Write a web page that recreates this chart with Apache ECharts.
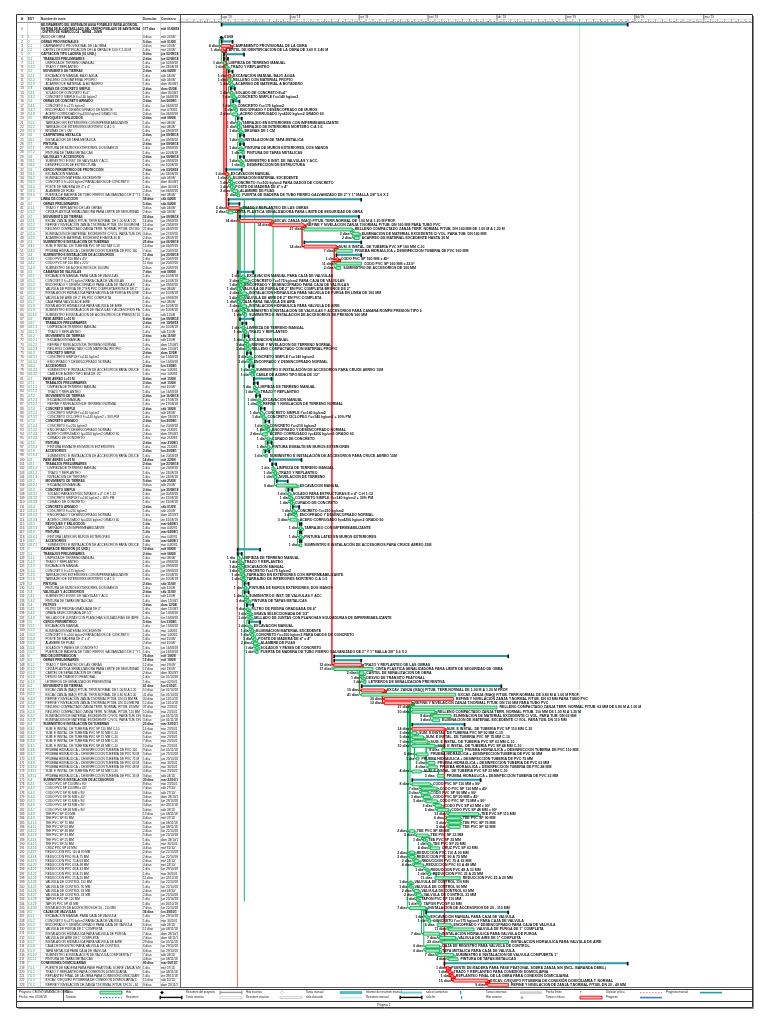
<!DOCTYPE html>
<html><head><meta charset="utf-8">
<script src="https://cdn.jsdelivr.net/npm/echarts/dist/echarts.min.js"></script>
<style>html,body{margin:0;padding:0;background:#fff}#c{width:768px;height:1024px}</style>
</head><body><div id="c"></div>
<script>
// ---------------- DATA ----------------
const taskNames = [
"MEJORAMIENTO DEL SISTEMA DE AGUA POTABLE E INSTALACIÓN DEL SISTEMA DE ALCANTARILLADO DEL CENTRO POBLADO DE SANTA ROSA, DISTRITO DE HUARICOLCA - TARMA - JUNIN",
"", "",
// 3-9
"INICIO DE OBRA","OBRAS PROVISIONALES","CAMPAMENTO PROVISIONAL DE LA OBRA","CARTEL DE IDENTIFICACION DE LA OBRA DE 3.60 X 2.40 M","CAPTACION TIPO LADERA (01 UND.)","TRABAJOS PRELIMINARES","LIMPIEZA DE TERRENO MANUAL",
// 10-19
"TRAZO Y REPLANTEO","MOVIMIENTO DE TIERRAS","EXCAVACION MANUAL BAJO AGUA","RELLENO CON MATERIAL PROPIO","ACARREO DE MATERIAL A BOTADERO","OBRAS DE CONCRETO SIMPLE","SOLADO DE CONCRETO E=4\"","CONCRETO SIMPLE f'c=140 kg/cm2","OBRAS DE CONCRETO ARMADO","CONCRETO f'c=175 kg/cm2",
// 20-29
"ENCOFRADO Y DESENCOFRADO DE MUROS","ACERO CORRUGADO fy=4200 kg/cm2 GRADO 60","REVOQUES Y ENLUCIDOS","TARRAJEO EN EXTERIORES CON IMPERMEABILIZANTE","TARRAJEO DE INTERIORES MORTERO C:A 1:5","BRUÑAS DE 1 CM","CARPINTERIA METALICA","INSTALACION DE TAPA METALICA","PINTURA","PINTURA DE MUROS EXTERIORES, DOS MANOS",
// 30-39
"PINTURA DE TAPAS METALICAS","VALVULAS Y ACCESORIOS","SUMINISTRO E INST. DE VALVULAS Y ACC.","DESINFECCION DE ESTRUCTURA","CERCO PERIMETRICO DE PROTECCION","EXCAVACION MANUAL","ELIMINACION MATERIAL EXCEDENTE","CONCRETO f'c=100 kg/cm2 PARA DADOS DE CONCRETO","POSTE DE MADERA DE 4\" x 4\"","ALAMBRE DE PUAS",
// 40-49
"PUERTA DE MADERA DE TUBO FIERRO GALVANIZADO DE 2\" Y 1\" MALLA 3/8\" 5.6 X 2","LINEA DE CONDUCCION","OBRAS PRELIMINARES","TRAZO Y REPLANTEO DE LAS OBRAS","CINTA PLASTICA SEÑALIZADORA PARA LIMITE DE SEGURIDAD DE OBRA","MOVIMIENTO DE TIERRAS","EXCAV. ZANJA (MAQ) P/TUB. TERR.NORMAL DE 1.00 M A 1.20 M PROF.","REFINE Y NIVELACION ZANJA T.NORMAL P/TUB. DN 160 MM PARA TUBO PVC","RELLENO COMPACTADO ZANJA TERR. NORMAL P/TUB. DN 160 MM DE 1.00 M A 1.20 M","ELIMINACION DE MATERIAL EXCEDENTE C/ VOL. PARA TUB. DN 160 MM",
// 50-59
"ACARREO DE MATERIAL EXCEDENTE HASTA 30 M","SUMINISTRO E INSTALACION DE TUBERIAS","SUM. E INSTAL. DE TUBERIA PVC SP 160 MM C-10","PRUEBA HIDRAULICA + DESINFECCION TUBERIA DE PVC 160 MM","SUMINISTRO E INSTALACION DE ACCESORIOS","CODO PVC SP 160 MM x 45°","CODO PVC SP 160 MM x 22.5°","SUMINISTRO DE ACCESORIOS DE 160 MM","CAMARAS DE VALVULAS","EXCAVACION MANUAL PARA CAJA DE VALVULAS",
// 60-69
"CONCRETO f'c=175 kg/cm2 PARA CAJA DE VALVULAS","ENCOFRADO Y DESENCOFRADO PARA CAJA DE VALVULAS","VALVULA DE PURGA DE 2\" EN PVC COMPLETA BRONCE DE 2\"","INSTALACION HIDRAULICA PARA VALVULA DE PURGA EN LINEA DE 160 MM","VALVULA DE AIRE DE 2\" EN PVC COMPLETA","CAJA PARA VALVULA DE AIRE","INSTALACION HIDRAULICA PARA VALVULA DE AIRE","SUMINISTRO E INSTALACION DE VALVULAS Y ACCESORIOS PARA CAMARA ROMPE PRESION TIPO 6","SUMINISTRO E INSTALACION DE ACCESORIOS DE PRESION 160 MM","PASE AEREO L=10 M",
// 70-79
"TRABAJOS PRELIMINARES","LIMPIEZA DE TERRENO MANUAL","TRAZO Y REPLANTEO","MOVIMIENTO DE TIERRAS","EXCAVACION MANUAL","REFINE Y NIVELACION DE TERRENO NORMAL","RELLENO COMPACTADO CON MATERIAL PROPIO","CONCRETO SIMPLE","CONCRETO SIMPLE f'c=140 kg/cm2","ENCOFRADO Y DESENCOFRADO NORMAL",
// 80-89
"ACCESORIOS","SUMINISTRO E INSTALACIÓN DE ACCESORIOS PARA CRUCE AEREO 10M","CABLE DE ACERO TIPO BOA DE 1/2\"","PASE AEREO L=15 M","TRABAJOS PRELIMINARES","LIMPIEZA DE TERRENO MANUAL","TRAZO Y REPLANTEO","MOVIMIENTO DE TIERRAS","EXCAVACION MANUAL","REFINE Y NIVELACION DE TERRENO NORMAL",
// 90-99
"CONCRETO SIMPLE","CONCRETO SIMPLE f'c=140 kg/cm2","CONCRETO CICLOPEO f'c=140 kg/cm2 + 30% PM","CONCRETO ARMADO","CONCRETO f'c=210 kg/cm2","ENCOFRADO Y DESENCOFRADO NORMAL","ACERO CORRUGADO fy=4200 kg/cm2 GRADO 60","CURADO DE CONCRETO","PINTURA","PINTURA ESMALTE EN MUROS EXTERIORES",
// 100-109
"ACCESORIOS","SUMINISTRO E INSTALACIÓN DE ACCESORIOS PARA CRUCE AEREO 15M","PASE AEREO L=25 M","TRABAJOS PRELIMINARES","LIMPIEZA DE TERRENO MANUAL","TRAZO Y REPLANTEO","NIVELACION DE TERRENO","MOVIMIENTO DE TIERRAS","EXCAVACION MANUAL","CONCRETO SIMPLE",
// 110-119
"SOLADO PARA ESTRUCTURAS E = 4\" C:H 1:12","CONCRETO SIMPLE f'c=140 kg/cm2 + 30% PM","CURADO DE CONCRETO","CONCRETO ARMADO","CONCRETO f'c=210 kg/cm2","ENCOFRADO Y DESENCOFRADO NORMAL","ACERO CORRUGADO fy=4200 kg/cm2 GRADO 60","REVOQUES Y ENLUCIDOS","TARRAJEO CON IMPERMEABILIZANTE","PINTURA",
// 120-129
"PINTURA LATEX EN MUROS EXTERIORES","ACCESORIOS","SUMINISTRO E INSTALACIÓN DE ACCESORIOS PARA CRUCE AEREO 25M","CAMARA DE REUNION (01 UND.)","TRABAJOS PRELIMINARES","LIMPIEZA DE TERRENO MANUAL","TRAZO Y REPLANTEO","EXCAVACION MANUAL","CONCRETO f'c=175 kg/cm2","TARRAJEO EN EXTERIORES CON IMPERMEABILIZANTE",
// 130-139
"TARRAJEO DE INTERIORES MORTERO C:A 1:5","PINTURA","PINTURA DE MUROS EXTERIORES, DOS MANOS","VALVULAS Y ACCESORIOS","SUMINISTRO E INST. DE VALVULAS Y ACC","PINTURA DE TAPAS METALICAS","FILTROS","FILTRO DE PIEDRA GRADUADA DE 4\"","GRAVA SELECCIONADA DE 1/2\"","SELLADO DE JUNTAS CON PLANCHAS SOLDADURAS DE IMPERMEABILIZANTE",
// 140-149
"CERCO PERIMETRICO","EXCAVACION MANUAL","ELIMINACION MATERIAL EXCEDENTE","CONCRETO f'c=100 kg/cm2 PARA DADOS DE CONCRETO","POSTE DE MADERA DE 4\" x 4\"","ALAMBRE DE PUAS","SOLADOS Y PASES DE CONCRETO","PUERTA DE MADERA DE TUBO FIERRO GALVANIZADO DE 2\" Y 1\" MALLA 3/8\" 5.6 X 2","RED DE DISTRIBUCION","OBRAS PRELIMINARES",
// 150-159
"TRAZO Y REPLANTEO DE LAS OBRAS","CINTA PLASTICA SEÑALIZADORA PARA LIMITE DE SEGURIDAD DE OBRA","CARTEL DE SEÑALIZACION DE OBRA","DESVIO DE TRANSITO PEATONAL","LETREROS DE SEÑALIZACION PREVENTIVA","MOVIMIENTO DE TIERRAS","EXCAV. ZANJA (MAQ) P/TUB. TERR.NORMAL DE 1.00 M A 1.20 M PROF.","EXCAV. ZANJA (MAQ) P/TUB. TERR.NORMAL DE 0.80 M A 1.00 M PROF.","REFINE Y NIVELACION ZANJA T.NORMAL P/TUB. DN 63 MM PARA TUBO PVC","REFINE Y NIVELACION ZANJA T.NORMAL P/TUB. DN 110 MM PARA TUBO PVC",
// 160-169
"RELLENO COMPACTADO ZANJA TERR. NORMAL P/TUB. 63 MM DE 0.80 M A 1.00 M","RELLENO COMPACTADO ZANJA TERR. NORMAL P/TUB. 110 MM DE 1.00 M A 1.20 M","ELIMINACION DE MATERIAL EXCEDENTE C/ VOL. PARA TUB. DN 63 MM","ELIMINACION DE MATERIAL EXCEDENTE C/ VOL. PARA TUB. DN 110 MM","SUMINISTRO E INSTALACION DE TUBERIAS","SUM. E INSTAL. DE TUBERIA PVC SP 110 MM C-10","SUM. E INSTAL. DE TUBERIA PVC SP 90 MM C-10","SUM. E INSTAL. DE TUBERIA PVC SP 75 MM C-10","SUM. E INSTAL. DE TUBERIA PVC SP 63 MM C-10","SUM. E INSTAL. DE TUBERIA PVC SP 48 MM C-10",
// 170-179
"PRUEBA HIDRAULICA + DESINFECCION TUBERIA DE PVC 110 MM","PRUEBA HIDRAULICA + DESINFECCION TUBERIA DE PVC 90 MM","PRUEBA HIDRAULICA + DESINFECCION TUBERIA DE PVC 75 MM","PRUEBA HIDRAULICA + DESINFECCION TUBERIA DE PVC 63 MM","PRUEBA HIDRAULICA + DESINFECCION TUBERIA DE PVC 48 MM","SUM. E INSTAL. DE TUBERIA PVC SP 33 MM C-10","PRUEBA HIDRAULICA + DESINFECCION TUBERIA DE PVC 33 MM","SUMINISTRO E INSTALACION DE ACCESORIOS","CODO PVC SP 110 MM x 90°","CODO PVC SP 110 MM x 45°",
// 180-189
"CODO PVC SP 90 MM x 90°","CODO PVC SP 90 MM x 45°","CODO PVC SP 75 MM x 90°","CODO PVC SP 63 MM x 90°","CODO PVC SP 48 MM x 90°","TEE PVC SP 110 MM","TEE PVC SP 90 MM","TEE PVC SP 75 MM","TEE PVC SP 63 MM","TEE PVC SP 48 MM",
// 190-199
"TEE PVC SP 33 MM","TEE PVC SP 25 MM","TEE PVC SP 20 MM","CRUZ PVC SP 63 MM","REDUCCION PVC 110 A 90 MM","REDUCCION PVC 90 A 75 MM","REDUCCION PVC 75 A 63 MM","REDUCCION PVC 63 A 48 MM","REDUCCION PVC 48 A 33 MM","REDUCCION PVC 33 A 25 MM",
// 200-209
"REDUCCION PVC 25 A 20 MM","VALVULA DE CONTROL 110 MM","VALVULA DE CONTROL 90 MM","VALVULA DE CONTROL 63 MM","VALVULA DE CONTROL 33 MM","TAPON PVC SP 110 MM","TAPON PVC SP 63 MM","INSTALACION DE ACCESORIOS DE 20 - 110 MM","CAJAS DE VALVULAS","EXCAVACION MANUAL PARA CAJA DE VALVULA",
// 210-219
"CONCRETO f'c=175 kg/cm2 PARA CAJA DE VALVULA","ENCOFRADO Y DESENCOFRADO PARA CAJA DE VALVULA","VALVULA DE PURGA DE 1\" COMPLETA","INSTALACION HIDRAULICA PARA VALVULA DE PURGA","VALVULA DE AIRE DE 1\" COMPLETA","INSTALACION HIDRAULICA PARA VALVULA DE AIRE","CAJA DE REGISTRO PARA VALVULA DE CONTROL","TAPA METALICA PARA CAJA DE VALVULA","SUMINISTRO E INSTALACION DE VALVULA COMPUERTA 1\"","PINTURA DE TAPAS METALICAS",
// 220-225
"CONEXIONES DOMICILIARIAS","PUENTE DE MADERA PARA PASE PEATONAL SOBRE ZANJA S/N (INCL. BARANDA DEBIL)","TRAZO Y REPLANTEO PARA CONEXIÓN DOMICILIARIA","REPLANTEO FINAL DE LA OBRA PARA CONEXIÓN DOMICILIARIA","EXCAV. C/EQUIPO P/TUBERIA DE CONEXIÓN DOMICILIARIA T. NORMAL","REFINE Y NIVELACION DE ZANJA T.NORMAL P/TUB. DN 20 - 40 MM"
];

// P = project summary, B = blank, M = milestone, S = summary, C = critical task, N = normal task
const taskKinds = ["PBBMSCCSSN","NSCNNSNNSN","NNSNNNSNSN","NSNNSCNNNN","NSSCNSCCNN","NSCNSCNNSN","NNNNNNNNNS","SNNSNNNSNN","SNNSSNNSNN","SNNSNNNNSN","SNSSNNNSNS","NNNSNNNSNS","NSNSSNNNNN","NSNSNNSNNN","SNNNNNNNSS","CNNNNSCNCC","NNNNSCNNNN","NNNNNNNSNN","NNNNNNNNNN","NNNNNNNNNN","NNNNNNNNSN","NNNNNNNNNN","SCCCCC"].join('').split('');

const taskLevels = [
0,0,0,1,1,2,2,1,2,3, 3,2,3,3,3,2,3,3,2,3, 3,3,2,3,3,3,2,3,2,3, 3,2,3,3,2,3,3,3,3,3,
3,1,2,3,3,2,3,3,3,3, 3,2,3,3,2,3,3,3,2,3, 3,3,3,3,3,3,3,3,3,2, 3,4,4,3,4,4,4,3,4,4,
3,4,4,2,3,4,4,3,4,4, 3,4,4,3,4,4,4,4,3,4, 3,4,2,3,4,4,4,3,4,3, 4,4,4,3,4,4,4,3,4,3,
4,3,4,1,2,3,3,3,3,3, 3,2,3,2,3,3,2,3,3,3, 2,3,3,3,3,3,3,3,1,2, 3,3,3,3,3,2,3,3,3,3,
3,3,3,3,2,3,3,3,3,3, 3,3,3,3,3,3,3,2,3,3, 3,3,3,3,3,3,3,3,3,3, 3,3,3,3,3,3,3,3,3,3,
3,3,3,3,3,3,3,3,2,3, 3,3,3,3,3,3,3,3,3,3, 1,3,3,3,3,3];

// start (days from project start)
const taskStarts = [
0,0,0,0,0,0,0,1,1,1, 2,3,3,3,4,4,4,5,5,5, 6,5,7,7,7,8,8,8,8,8, 9,8,8,9,2,2,3,4,4,5,
7,3,3,3,3,8,8,22,36,57, 58,36,36,50,50,50,50,50,7,9, 9,8,7,9,8,7,9,9,10,8, 9,9,10,10,10,11,11,11,12,12,
12,13,13,14,14,14,15,15,16,16, 17,17,18,19,19,20,18,20,20,20, 19,19,21,22,22,23,23,24,24,29, 29,30,30,31,31,32,30,34,34,34,
34,34,34,7,7,7,8,8,8,9, 9,10,10,10,10,11,11,11,12,12, 12,12,13,13,14,14,15,15,49,49, 49,49,60,61,62,61,61,61,71,71,
83,83,92,92,83,83,83,83,83,83, 96,85,85,90,90,83,94,83,83,87, 87,88,89,93,94,99,98,99,99,82, 85,88,90,91,82,82,84,84,89,90,
93,82,82,84,85,85,86,82,89,89, 90,94,99,88,95,96,89,89,94,99, 97,98,99,100,101,116];

// duration (days)
const taskDurations = [
177,0,0,0,5,4,1,9,2,1, 1,2,1,1,1,2,1,1,3,1, 1,2,2,1,1,1,2,1,2,1, 1,2,1,1,7,1,1,1,1,2,
1,58,5,5,2,52,14,14,21,3, 2,25,14,7,11,1,11,2,7,1, 3,1,1,2,1,1,2,1,1,6, 2,1,1,2,1,1,1,2,1,1,
2,1,1,8,2,1,1,2,1,1, 2,1,1,2,1,1,2,1,2,1, 2,1,14,2,1,1,1,5,9,2, 1,1,1,3,1,1,3,1,1,1,
1,1,1,10,2,1,1,1,1,1, 1,2,1,2,1,1,3,1,1,1, 5,1,1,1,1,2,1,1,76,12, 12,17,2,1,1,61,10,41,30,12,
37,10,8,3,23,14,2,5,7,10, 9,5,1,3,4,4,3,30,8,7, 3,3,5,3,5,13,6,5,5,2, 5,1,1,4,2,2,2,4,1,1,
11,1,1,2,2,1,1,7,36,1, 1,6,11,7,7,29,6,6,7,4, 80,1,1,1,15,9];

// predecessor row (-1 = none)
const taskPreds = [
-1,-1,-1,-1,-1,3,3,-1,-1,6, 9,-1,10,12,13,-1,14,16,-1,17, 19,17,-1,21,23,24,-1,25,-1,27, 29,-1,29,32,-1,6,35,36,37,38,
39,-1,-1,5,43,-1,43,46,47,48, 49,-1,47,52,-1,52,55,55,-1,43, 59,60,61,62,63,64,65,66,67,-1, -1,43,71,-1,72,74,75,-1,76,78,
-1,79,81,-1,-1,43,85,-1,86,88, -1,89,91,-1,92,94,94,95,-1,97, -1,99,-1,-1,43,104,105,-1,106,-1, 108,110,111,-1,112,114,114,-1,116,-1,
118,-1,120,-1,-1,44,125,126,127,128, 129,-1,130,-1,132,134,-1,135,137,138, -1,139,141,142,143,144,145,146,-1,-1, 55,150,150,152,153,-1,150,150,156,156,
159,159,161,161,-1,159,159,159,159,159, 169,166,167,168,169,159,175,-1,159,178, 179,180,181,182,183,184,185,186,187,159, 189,190,191,192,159,194,195,196,197,198,
199,159,201,202,203,204,205,159,-1,207, 209,210,211,207,213,214,207,216,217,218, -1,165,221,222,223,224];

// links that continue to tasks on the next page: [from row, day of the vertical]
const offPageFromRows = [45, 41];
const offPageDays = [7, 10];
const offPageToRows = [225, 205];

// timescale
const majorTickDays = [0,30,60,90,120,150,180,210];
const majorTickLabels = ["ago '18","sep '18","oct '18","nov '18","dic '18","ene '19","feb '19","mar '19"];
const minorStep = 3;
const minorTickLetters = ['D','L','M','X','J','V','S'];
// vertical marker line (days)
const markerLineDays = [156];

const legendLabels = [["Tarea","División"],["Hito","Resumen"],["Resumen del proyecto","Tarea inactiva"],["Hito inactivo","Resumen inactivo"],["Tarea manual","solo duración"],["Informe de resumen manual","Resumen manual"],["solo el comienzo","solo fin"],["Tareas externas","Hito externo"],["Fecha límite","Tareas críticas"],["División crítica","Progreso"],["Progreso manual",""]];

// ---------------- RENDER ----------------
const TEAL='#2a9ca4', RED='#ff0000', PINK='#f9b8b8', GREEN='#00b050', LGREEN='#b3e6c1';
const FONT='"Liberation Sans", Arial, sans-serif';
const DOW=['dom','lun','mar','mié','jue','vie','sáb'];
const pad=n=>(n<10?'0':'')+n;
function dateOf(d){const t=new Date(2018,7,1);t.setDate(t.getDate()+d);return t;}
function fmtDate(d){const t=dateOf(d);return DOW[t.getDay()]+' '+pad(t.getDate())+'/'+pad(t.getMonth()+1)+'/'+String(t.getFullYear()).slice(2);}
function fmtDur(n){return n===1?'1 día':n+' días';}

const N=taskNames.length;
const edt=[]; const cnt=[0,0,0,0,0,0];
for(let k=0;k<N;k++){
  const kd=taskKinds[k];
  if(kd==='P'){edt.push('0');continue;}
  if(kd==='B'){edt.push('');continue;}
  const L=taskLevels[k]; cnt[L]++; for(let j=L+1;j<cnt.length;j++)cnt[j]=0;
  edt.push(cnt.slice(1,L+1).join('.'));
}

function txt(x,y,s,font,align,fill,extra){
  return {type:'text',silent:true,style:Object.assign({x:x,y:y,text:s,font:font,align:align||'left',verticalAlign:'middle',fill:fill||'#000'},extra||{})};
}

const barData=[], tableData=[], linkData=[];
for(let k=0;k<N;k++){
  if(taskKinds[k]==='B') continue;
  barData.push([taskStarts[k], taskStarts[k]+taskDurations[k], k]);
  tableData.push([0,k]);
  const p=taskPreds[k];
  if(p>=0) linkData.push([taskStarts[p]+taskDurations[p], p, taskStarts[k], k]);
}

const LBL='bold 3.55px '+FONT;
function renderBar(params,api){
  const s=api.value(0), e=api.value(1), k=api.value(2);
  const kind=taskKinds[k];
  const a=api.coord([s,k]), b=api.coord([e,k]);
  const y=a[1], x0=a[0], x1=b[0];
  const ch=[];
  if(kind==='S'||kind==='P'){
    const bh=kind==='P'?2.4:2.1;
    ch.push({type:'rect',shape:{x:x0,y:y-bh/2-0.3,width:Math.max(x1-x0,0.8),height:bh},style:{fill:TEAL}});
    ch.push({type:'rect',shape:{x:x0-0.6,y:y-1.7,width:1.7,height:3.6},style:{fill:'#111'}});
    ch.push({type:'rect',shape:{x:x1-1.1,y:y-1.7,width:1.7,height:3.6},style:{fill:'#111'}});
  } else if(kind==='M'){
    ch.push({type:'polygon',shape:{points:[[x0,y-2],[x0+2,y],[x0,y+2],[x0-2,y]]},style:{fill:'#000'}});
    const t=dateOf(s);
    ch.push(txt(x0+3,y-0.8,pad(t.getDate())+'/'+pad(t.getMonth()+1),LBL,'left'));
  } else {
    const c=kind==='C';
    ch.push({type:'rect',shape:{x:x0,y:y-1.45,width:Math.max(x1-x0,1.2),height:2.9},style:{fill:c?PINK:LGREEN,stroke:c?RED:GREEN,lineWidth:0.85}});
    ch.push(txt(x1+2.5,y,taskNames[k],LBL,'left','#111'));
    ch.push(txt(x0-2.5,y,fmtDur(taskDurations[k]),LBL,'right','#111'));
  }
  return {type:'group',children:ch};
}

function renderLink(params,api){
  const pe=api.value(0), pk=api.value(1), ss=api.value(2), sk=api.value(3);
  const A=api.coord([pe,pk]), B=api.coord([ss,sk]);
  const h=api.size([0,1])[1];
  const crit=taskKinds[pk]==='C'&&taskKinds[sk]==='C';
  const col=crit?RED:GREEN, lw=crit?1.35:0.9;
  let pts, arrow;
  if(B[0]>=A[0]+2.5){
    const xv=B[0]+1.2;
    pts=[[A[0],A[1]],[xv,A[1]],[xv,B[1]-1.5]];
    arrow=[[xv-1,B[1]-2.6],[xv+1,B[1]-2.6],[xv,B[1]-1.4]];
  } else {
    const xr=A[0]+1.8, ym=A[1]+h/2, xl=B[0]-2;
    pts=[[A[0],A[1]],[xr,A[1]],[xr,ym],[xl,ym],[xl,B[1]],[B[0],B[1]]];
    arrow=[[B[0]-1.2,B[1]-1],[B[0]-1.2,B[1]+1],[B[0],B[1]]];
  }
  return {type:'group',children:[
    {type:'polyline',shape:{points:pts},style:{stroke:col,lineWidth:lw,fill:null}},
    {type:'polygon',shape:{points:arrow},style:{fill:col}}]};
}

function renderOffPage(params,api){
  const fr=api.value(0), d=api.value(1), i=api.value(2);
  const a=api.coord([d,fr]), b=api.coord([d,offPageToRows[i]]);
  const h=api.size([0,1])[1];
  const crit=taskKinds[fr]==='S'?i===0:taskKinds[fr]==='C';
  return {type:'line',shape:{x1:a[0],y1:a[1],x2:b[0],y2:b[1]+h/2},style:{stroke:i===0?'#f06b6b':GREEN,lineWidth:i===0?1:0.9}};
}

function renderTable(params,api){
  const k=api.value(1);
  const y=api.coord([0,k])[1];
  const h=api.size([0,1])[1];
  const kind=taskKinds[k];
  const bold=(kind==='S'||kind==='P');
  const f=(bold?'bold ':'')+'3.1px '+FONT;
  const ch=[];
  if(kind==='P'){
    const top=y-h/2, bot=top+3*h, cy=(top+bot)/2;
    ch.push(txt(22,cy,'0','3px '+FONT,'center','#333'));
    ch.push(txt(41,cy,taskNames[k],'bold 2.75px '+FONT,'left','#000',{width:100,overflow:'break',lineHeight:3.7}));
    ch.push(txt(143,cy,fmtDur(taskDurations[k]),'bold 3.1px '+FONT,'left'));
    ch.push(txt(161,cy,fmtDate(taskStarts[k]),'bold 3.1px '+FONT,'left'));
    ch.push({type:'line',shape:{x1:17,y1:bot,x2:180,y2:bot},style:{stroke:'#c8c8c8',lineWidth:0.5}});
  } else {
    ch.push(txt(22,y,String(k-2),'3px '+FONT,'center','#333'));
    ch.push(txt(28,y,edt[k],'3px '+FONT,'left','#3b8a5a',{width:11.5,overflow:'truncate',ellipsis:''}));
    const ind=41+(taskLevels[k]-1)*2.2;
    ch.push(txt(ind,y,taskNames[k],f,'left','#111',{width:141-ind,overflow:'truncate',ellipsis:''}));
    ch.push(txt(143,y,fmtDur(taskDurations[k]),f,'left','#111'));
    ch.push(txt(161,y,fmtDate(taskStarts[k]),f,'left','#111',{width:18.5,overflow:'truncate',ellipsis:''}));
    ch.push({type:'line',shape:{x1:17,y1:y+h/2,x2:180,y2:y+h/2},style:{stroke:'#c8c8c8',lineWidth:0.5}});
  }
  return {type:'group',children:ch};
}

function renderMajor(params,api){
  const d=api.value(0), i=api.value(1);
  const x=api.coord([d,0])[0];
  const top=params.coordSys.y;
  return {type:'group',children:[
    {type:'line',shape:{x1:x,y1:top-7.5,x2:x,y2:top-3.3},style:{stroke:'#333',lineWidth:0.7}},
    txt(x+1,top-5.6,majorTickLabels[i],'2.8px '+FONT,'left','#222')]};
}
function renderMinor(params,api){
  const d=api.value(0);
  const x=api.coord([d,0])[0], x2=api.coord([d+minorStep,0])[0];
  const top=params.coordSys.y;
  const t=dateOf(d);
  return {type:'group',children:[
    {type:'line',shape:{x1:x,y1:top-3.3,x2:x,y2:top},style:{stroke:'#555',lineWidth:0.5}},
    txt((x+x2)/2,top-1.6,minorTickLetters[t.getDay()]+' '+t.getDate(),'2.4px '+FONT,'center','#333')]};
}
function renderMarker(params,api){
  const x=api.coord([api.value(0),0])[0];
  const cs=params.coordSys;
  return {type:'line',shape:{x1:x,y1:cs.y,x2:x,y2:cs.y+cs.height},style:{stroke:'#b9e5c2',lineWidth:0.9}};
}

const minorData=[]; for(let d=-18; d<231; d+=minorStep) minorData.push([d]);

// ------------- static frame, header and legend -------------
const G=[];
const L=(x1,y1,x2,y2,c,w)=>G.push({type:'line',silent:true,shape:{x1,y1,x2,y2},style:{stroke:c,lineWidth:w}});
const T=(x,y,s,font,align,fill)=>G.push({type:'text',silent:true,style:{x,y,text:s,font,align:align||'left',verticalAlign:'middle',fill:fill||'#222'}});
G.push({type:'rect',silent:true,shape:{x:16.5,y:14.5,width:736,height:993},style:{fill:null,stroke:'#333',lineWidth:1}});
L(17,22.5,752,22.5,'#555',0.6);
L(180.5,19.2,752,19.2,'#999',0.4);
[27,40,142,160].forEach(x=>L(x+0.5,14.5,x+0.5,987,'#b5b5b5',0.5));
L(180.5,14.5,180.5,987.5,'#444',0.8);
L(17,987.5,752,987.5,'#333',0.8);
L(17,989.5,752,989.5,'#333',1.1);
L(17,1001.5,752,1001.5,'#333',1.1);
L(63.5,989.5,63.5,1001.5,'#333',0.8);
L(753.5,16,753.5,1008.5,'#888',1);
L(18,1008.5,753.5,1008.5,'#888',1);
T(22,18.7,'Id','bold 3px '+FONT,'center');
T(28,18.7,'EDT','bold 3px '+FONT);
T(41,18.7,'Nombre de tarea','bold 3.1px '+FONT);
T(143,18.7,'Duración','bold 3.1px '+FONT);
T(161,18.7,'Comienzo','bold 3.1px '+FONT);
T(19,992.6,'Proyecto: CRONOGRAMA DE OBRA','3px '+FONT);
T(19,997.6,'Fecha: mar 07/08/18','3px '+FONT);
T(384,1004.6,'Página 1','3.4px '+FONT,'center');

function legendSymbol(lab,x,y){
  const w=22, r=[];
  const rect=(fill,stroke,lw,hh)=>r.push({type:'rect',silent:true,shape:{x:x,y:y-(hh||1.4),width:w,height:2*(hh||1.4)},style:{fill:fill,stroke:stroke,lineWidth:lw||0.8}});
  const bracket=(c)=>{r.push({type:'rect',silent:true,shape:{x:x,y:y-0.9,width:w,height:1.4},style:{fill:c}});r.push({type:'rect',silent:true,shape:{x:x-0.5,y:y-1.8,width:1.4,height:3.4},style:{fill:c}});r.push({type:'rect',silent:true,shape:{x:x+w-0.9,y:y-1.8,width:1.4,height:3.4},style:{fill:c}});};
  const diamond=(fill,stroke)=>r.push({type:'polygon',silent:true,shape:{points:[[x+2,y-1.8],[x+3.8,y],[x+2,y+1.8],[x+0.2,y]]},style:{fill:fill,stroke:stroke,lineWidth:0.5}});
  switch(lab){
    case 'Tarea': rect(LGREEN,GREEN,0.9); break;
    case 'División': r.push({type:'line',silent:true,shape:{x1:x,y1:y,x2:x+w,y2:y},style:{stroke:'#4a86d8',lineWidth:1.2,lineDash:[1.5,1.5]}}); break;
    case 'Hito': diamond('#000'); break;
    case 'Resumen': bracket('#111'); break;
    case 'Resumen del proyecto': bracket('#9a9a9a'); break;
    case 'Tarea inactiva': rect('#fff','#bdbdbd',0.6,1.1); break;
    case 'Hito inactivo': diamond('#fff','#999'); break;
    case 'Resumen inactivo': rect('#fff','#aaa',0.6,0.9); break;
    case 'Tarea manual': rect('#58bcc4','#2a9ca4',0.5,1.1); break;
    case 'solo duración': rect('#d2eef0',null,0,1.1); break;
    case 'Informe de resumen manual': rect('#79cbd1',null,0,1.0); break;
    case 'Resumen manual': bracket('#111'); break;
    case 'solo el comienzo': r.push({type:'rect',silent:true,shape:{x:x,y:y-1.6,width:1.2,height:3.2},style:{fill:TEAL}}); break;
    case 'solo fin': r.push({type:'rect',silent:true,shape:{x:x+1,y:y-1.6,width:1.2,height:3.2},style:{fill:TEAL}}); break;
    case 'Tareas externas': rect('#cfcfcf',null,0,1.3); break;
    case 'Hito externo': diamond('#b0b0b0'); break;
    case 'Fecha límite': r.push({type:'polygon',silent:true,shape:{points:[[x,y-1.6],[x+1.6,y-1.6],[x+0.8,y+1.4]]},style:{fill:'#6cc04a'}}); break;
    case 'Tareas críticas': rect(PINK,RED,0.9); break;
    case 'División crítica': r.push({type:'line',silent:true,shape:{x1:x,y1:y,x2:x+w,y2:y},style:{stroke:'#f28b8b',lineWidth:1.3,lineDash:[1.5,1.5]}}); break;
    case 'Progreso': rect('#3a7fd8',null,0,0.8); break;
    case 'Progreso manual': rect(TEAL,null,0,0.8); break;
  }
  return r;
}
legendLabels.forEach((pair,i)=>{
  const x=65+60*i;
  pair.forEach((lab,j)=>{
    if(!lab) return;
    const y=j?997.6:992.6;
    T(x+1,y,lab,'2.9px '+FONT);
    legendSymbol(lab,x+35,y).forEach(e=>G.push(e));
  });
});

const chart=echarts.init(document.getElementById('c'),null,{renderer:'canvas'});
chart.setOption({
  animation:false,
  backgroundColor:'#fff',
  grid:{left:180,right:16,top:22.5,bottom:37},
  xAxis:{type:'value',min:-18,max:231,show:false},
  yAxis:{type:'category',inverse:true,show:false,data:taskNames.map((n,i)=>String(i))},
  series:[
    {type:'custom',name:'marcadores',clip:false,z:1,renderItem:renderMarker,data:markerLineDays.map(d=>[d]),encode:{x:0}},
    {type:'custom',name:'continuacion',clip:false,z:2,renderItem:renderOffPage,data:offPageFromRows.map((r,i)=>[r,offPageDays[i],i]),encode:{x:1,y:0}},
    {type:'custom',name:'vinculos',clip:false,z:2,renderItem:renderLink,data:linkData,encode:{x:[0,2],y:[1,3]}},
    {type:'custom',name:'tareas',clip:false,z:3,renderItem:renderBar,data:barData,encode:{x:[0,1],y:2}},
    {type:'custom',name:'tabla',clip:false,z:4,renderItem:renderTable,data:tableData,encode:{x:0,y:1}},
    {type:'custom',name:'escala mayor',clip:false,z:4,renderItem:renderMajor,data:majorTickDays.map((d,i)=>[d,i]),encode:{x:0}},
    {type:'custom',name:'escala menor',clip:false,z:4,renderItem:renderMinor,data:minorData,encode:{x:0}}
  ],
  graphic:{elements:G}
});
</script></body></html>
